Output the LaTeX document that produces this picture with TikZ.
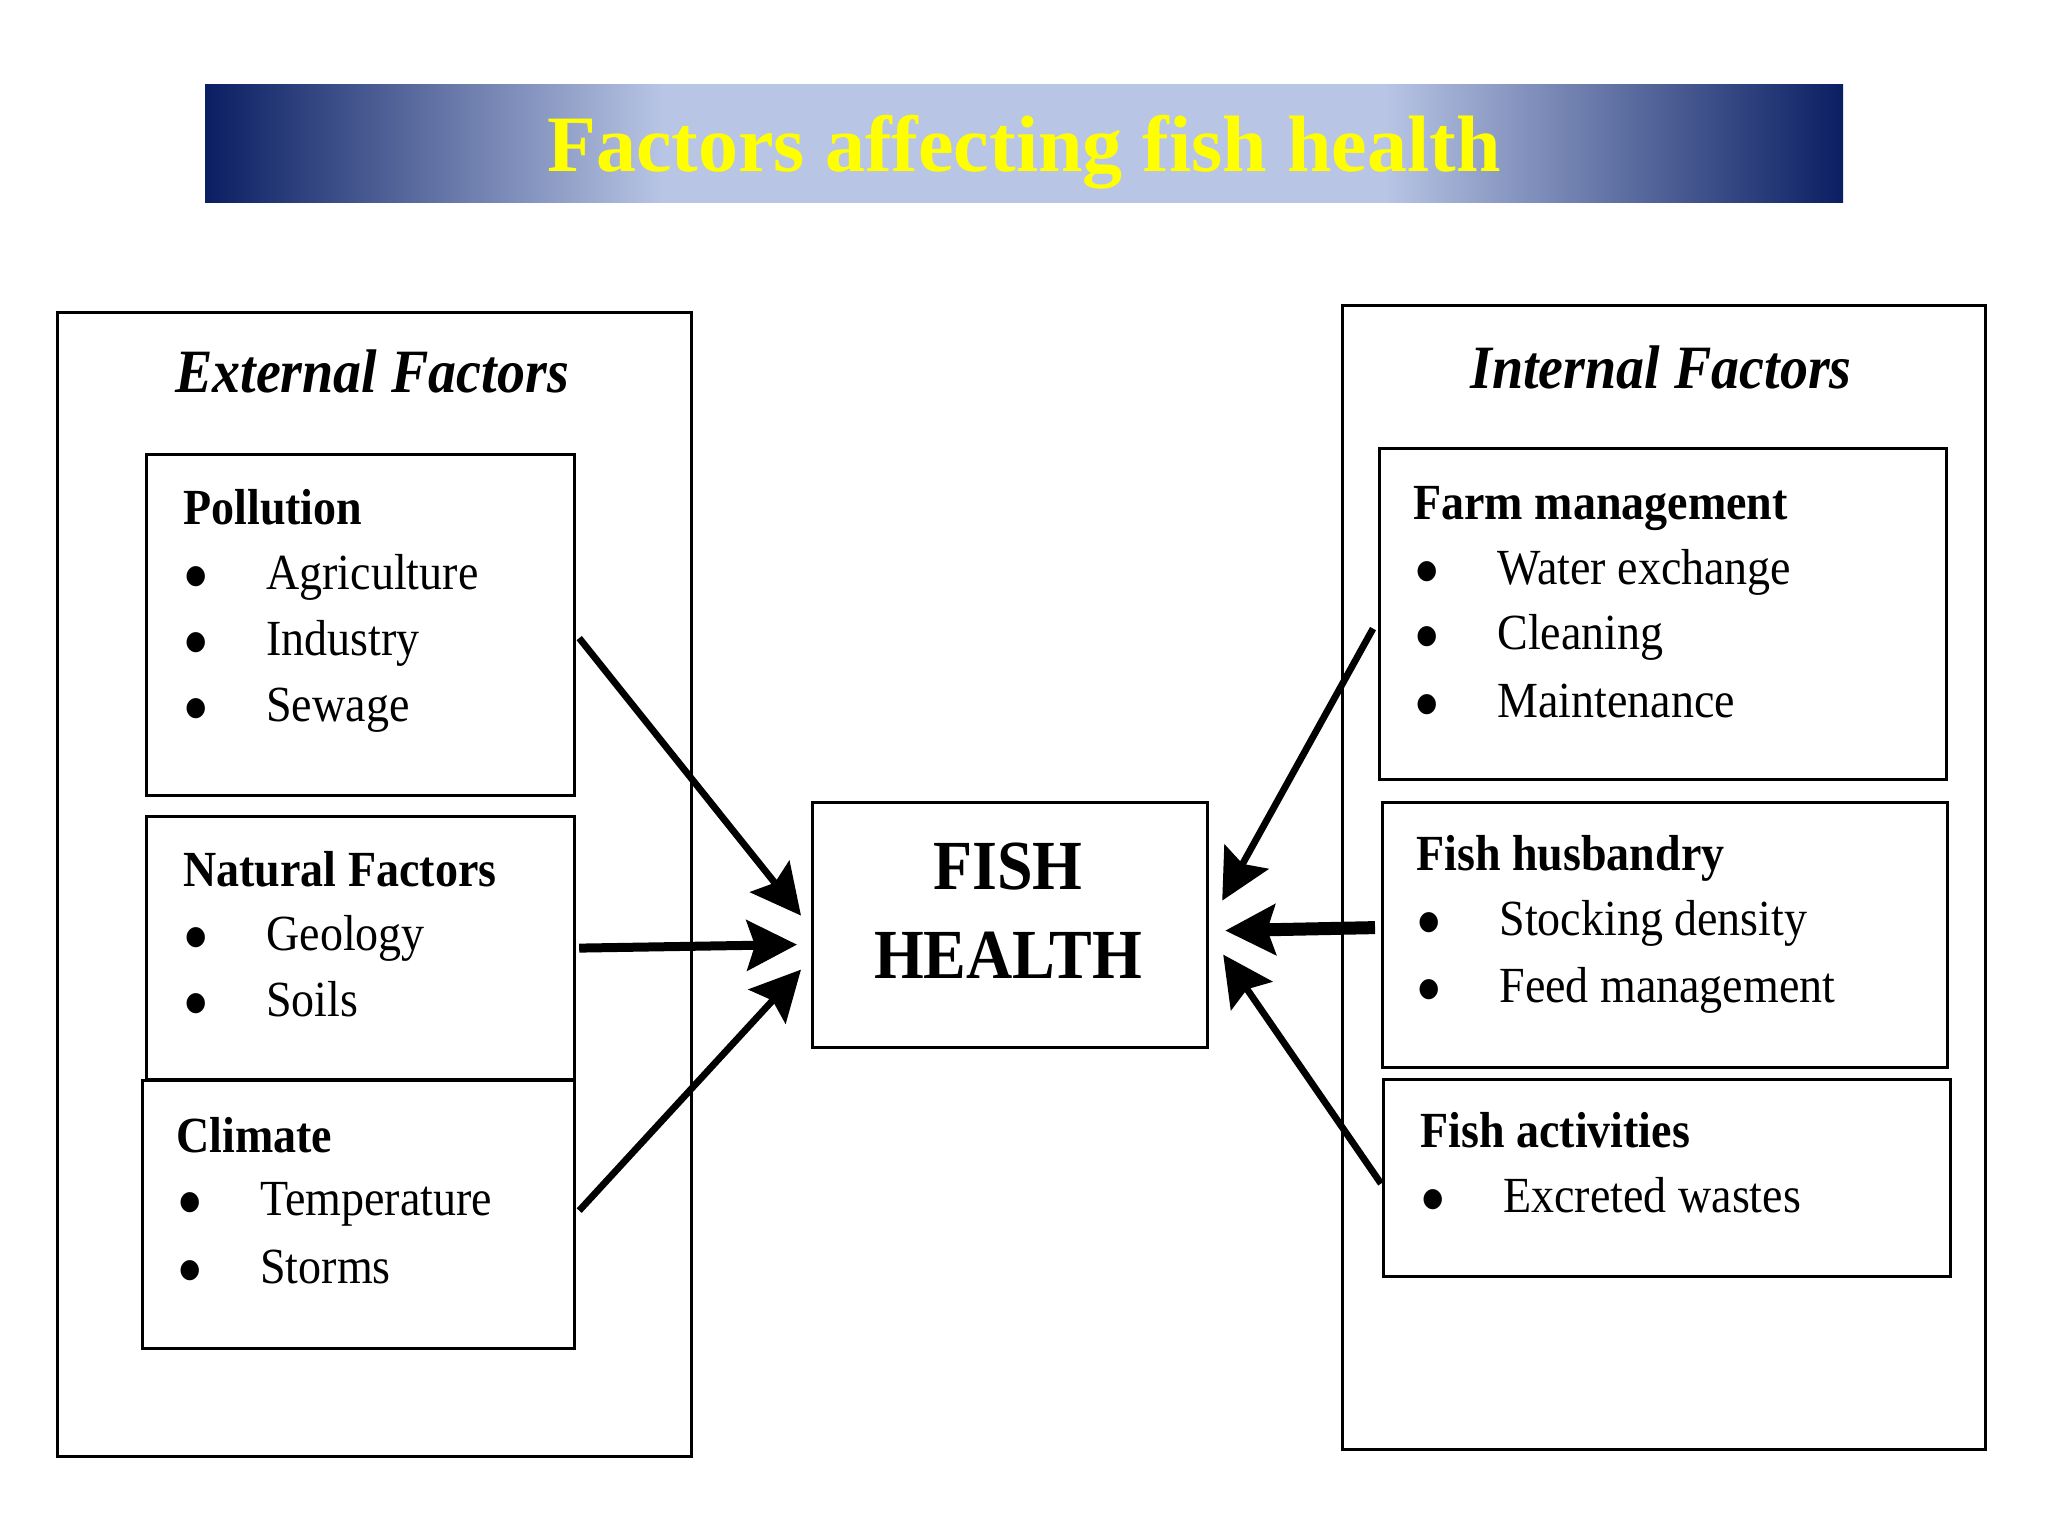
\documentclass[tikz,border=0pt]{standalone}
\usepackage{fontspec}
\setmainfont{Liberation Serif}
\newfontfamily\dejavufam{DejaVu Sans}
\usetikzlibrary{arrows.meta,calc}
\definecolor{navy}{RGB}{10,30,98}
\definecolor{lightbl}{RGB}{184,197,229}
\definecolor{titley}{RGB}{255,255,0}
\pgfdeclarehorizontalshading{bannershade}{100bp}{color(0bp)=(navy); color(25bp)=(navy); color(39bp)=(lightbl); color(61bp)=(lightbl); color(75bp)=(navy); color(100bp)=(navy)}
\newcommand\tallt[1]{\scalebox{1}[1.1]{#1}}
\newcommand\bul{\makebox[36.5pt][l]{\hspace*{-4pt}\raisebox{2.6pt}{\dejavufam\fontsize{12}{14}\selectfont ●}}}
\begin{document}
\begin{tikzpicture}[x=0.5pt,y=-0.5pt,
  box/.style={draw=black,line width=1.6pt,inner sep=0pt,anchor=north west},
  txt/.style={anchor=west,inner sep=0pt,yshift=-2.5pt,font=\fontsize{23}{27}\selectfont,text height=16pt,text depth=5pt},
  hd/.style={txt,font=\fontsize{23}{27}\selectfont\bfseries},
  grp/.style={anchor=center,inner sep=0pt,font=\fontsize{28}{32}\selectfont\bfseries\itshape},
  fht/.style={anchor=center,inner sep=0pt,font=\fontsize{32}{36}\selectfont\bfseries},
  arr/.style={-{Stealth[length=25pt,width=25pt,inset=4pt]},line width=3.4pt}]
\fill[white] (0,0) rectangle (2048,1536);
\useasboundingbox (0,0) rectangle (2048,1536);

% title banner
\node[shade,shading=bannershade,inner sep=0pt,minimum width=819pt,minimum height=58.5pt] (banner) at (1024,143.5) {};
\node[text=titley,inner sep=0pt,font=\fontsize{40}{44}\selectfont\bfseries] (title) at (1024,152) {Factors affecting fish health};

% external side
\node[box,minimum width=317pt,minimum height=572pt] (ext) at (56,311) {};
\node[grp] (exth) at (372,371) {\tallt{External Factors}};

\node[box,minimum width=214pt,minimum height=170.5pt] (poll) at (145,453) {};
\node[hd] (pollh) at (183,508) {\tallt{Pollution}};
\node[txt] (p1) at (193,573) {\tallt{\bul Agriculture}};
\node[txt] (p2) at (193,639) {\tallt{\bul Industry}};
\node[txt] (p3) at (193,705) {\tallt{\bul Sewage}};

\node[box,minimum width=214pt,minimum height=131.5pt] (nat) at (145,815) {};
\node[hd] (nath) at (183,870) {\tallt{Natural Factors}};
\node[txt] (n1) at (193,934) {\tallt{\bul Geology}};
\node[txt] (n2) at (193,1000) {\tallt{\bul Soils}};

\node[box,minimum width=216pt,minimum height=134pt] (clim) at (141,1079) {};
\node[hd] (climh) at (176,1136) {\tallt{Climate}};
\node[txt] (c1) at (187,1199) {\tallt{\bul Temperature}};
\node[txt] (c2) at (187,1267) {\tallt{\bul Storms}};

% centre
\node[box,minimum width=197.5pt,minimum height=122.5pt] (fh) at (811,801) {};
\node[fht] (fish) at (1008,867) {\tallt{FISH}};
\node[fht] (health) at (1008,955) {\tallt{HEALTH}};

% internal side
\node[box,minimum width=321.5pt,minimum height=572pt] (int) at (1341,304) {};
\node[grp] (inth) at (1661,367) {\tallt{Internal Factors}};

\node[box,minimum width=283.5pt,minimum height=165.5pt] (farm) at (1378,447) {};
\node[hd] (farmh) at (1413,503) {\tallt{Farm management}};
\node[txt] (f1) at (1424,568) {\tallt{\bul Water exchange}};
\node[txt] (f2) at (1424,633) {\tallt{\bul Cleaning}};
\node[txt] (f3) at (1424,701) {\tallt{\bul Maintenance}};

\node[box,minimum width=282.5pt,minimum height=132.5pt] (husb) at (1381,801) {};
\node[hd] (husbh) at (1416,854) {\tallt{Fish husbandry}};
\node[txt] (h1) at (1426,919) {\tallt{\bul Stocking density}};
\node[txt] (h2) at (1426,986) {\tallt{\bul Feed management}};

\node[box,minimum width=283.5pt,minimum height=98.5pt] (act) at (1382,1078) {};
\node[hd] (acth) at (1420,1131) {\tallt{Fish activities}};
\node[txt] (a1) at (1430,1196) {\tallt{\bul Excreted wastes}};

% arrows
\draw[arr] ($(poll.east)+(3,13)$) -- ($(fh.west)+(-10,-9.5)$);
\draw[arr,line width=4.5pt] ($(nat.east)+(3,0)$) -- ($(fh.west)+(-14,19.5)$);
\draw[arr] ($(clim.east)+(3,-4)$) -- ($(fh.west)+(-10,44.5)$);
\draw[arr] ($(farm.west)+(-5,14.5)$) -- ($(fh.east)+(13,-24.5)$);
\draw[arr,line width=6.5pt] ($(husb.west)+(-6,-7.5)$) -- ($(fh.east)+(16,5.5)$);
\draw[arr] ($(act.west)+(-1,5.5)$) -- ($(fh.east)+(14,29.5)$);
\end{tikzpicture}
\end{document}
